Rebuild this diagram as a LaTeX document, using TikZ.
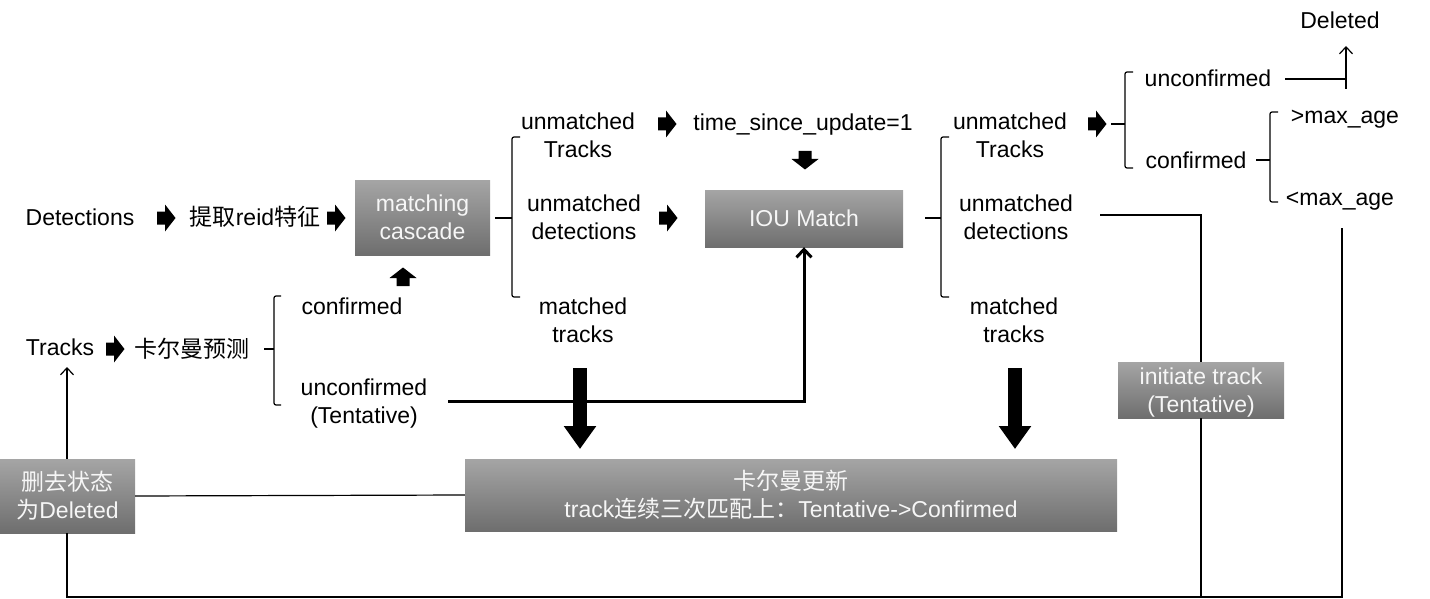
\documentclass[tikz,border=0pt]{standalone}
\usepackage{fontspec}
\setmainfont{Liberation Sans}
\newfontfamily\cjk{Noto Sans CJK SC}
\usetikzlibrary{arrows.meta,calc}
\definecolor{boxtop}{RGB}{165,165,165}
\definecolor{boxbot}{RGB}{110,110,110}
\definecolor{boxtxt}{RGB}{246,246,246}
\begin{document}
\begin{tikzpicture}[x=1pt,y=-1pt,
  every node/.style={font=\fontsize{23}{28}\selectfont, inner sep=0pt, align=center},
  gbox/.style={top color=boxtop, bottom color=boxbot, text=boxtxt},
  thinln/.style={line width=1.2pt},
  midln/.style={line width=2.2pt},
  thickln/.style={line width=3pt},
  openhead/.style={-{Straight Barb[length=7pt,width=13pt]}},
  bigarrow/.style={line width=14pt, -{Triangle[length=23pt,width=31pt]}},
  blk/.pic={\fill (-9,-6.5) -- (-1,-6.5) -- (-1,-13.5) -- (9.5,0) -- (-1,13.5) -- (-1,6.5) -- (-9,6.5) -- cycle;}
]
\useasboundingbox (0,0) rectangle (1430,599);

% text nodes
\node (det) at (80,217) {Detections};
\node (reid) at (255,217) {{\cjk 提取}reid{\cjk 特征}};
\node[gbox, minimum width=135pt, minimum height=75pt] (mc) at (422.5,217.5) {matching\\cascade};
\node (tracks) at (60,347) {Tracks};
\node (kp) at (192,349) {\cjk 卡尔曼预测};
\node (conf1) at (352,306) {confirmed};
\node (unc1) at (364,404) {unconfirmed\\(Tentative)};
\node (umt1) at (578,135.5) {unmatched\\Tracks};
\node (umd1) at (584,217) {unmatched\\detections};
\node (mt1) at (583,320) {matched\\tracks};
\node (tsu) at (803,125) {time\_since\_update=1};
\node[gbox, minimum width=198pt, minimum height=57pt] (iou) at (804,218.5) {IOU Match};
\node (umt2) at (1010,135.5) {unmatched\\Tracks};
\node (umd2) at (1016,217) {unmatched\\detections};
\node (mt2) at (1014,320) {matched\\tracks};
\node (unc2) at (1208,78) {unconfirmed};
\node (conf2) at (1196,160) {confirmed};
\node (gt) at (1345,119.5) {>max\_age};
\node (lt) at (1340,201.5) {<max\_age};
\node (deleted) at (1340,20) {Deleted};
\node[gbox, minimum width=166pt, minimum height=56pt, text depth=0pt] (init) at (1201,390) {initiate track\\(Tentative)};
\node[gbox, minimum width=652pt, minimum height=72pt] (kf) at (791,495) {{\cjk 卡尔曼更新}\\track{\cjk 连续三次匹配上：}Tentative->Confirmed};
\node[gbox, minimum width=135pt, minimum height=74pt] (del) at (67.5,496) {{\cjk 删去状态}\\{\cjk 为}Deleted};

% block arrows
\pic at (166,218) {blk};
\pic at (336,218) {blk};
\pic[rotate=90] at (403,277) {blk};
\pic at (115,349) {blk};
\pic at (667,124) {blk};
\pic at (668,218) {blk};
\pic[rotate=-90] at (805,160) {blk};
\pic at (1097,124) {blk};

% big arrows
\draw[bigarrow] (580,368) -- (580,449);
\draw[bigarrow] (1015,368) -- (1015,449);

% brackets
\begin{scope}[thinln, rounded corners=2pt]
\draw (281,296) -- (274,296) -- (274,405) -- (281,405);
\draw (264,349) -- (274,349);
\draw (520,137) -- (512,137) -- (512,297) -- (520,297);
\draw (495,218) -- (512,218);
\draw (949,137) -- (941,137) -- (941,297) -- (949,297);
\draw (925,218) -- (941,218);
\draw (1133,72) -- (1125,72) -- (1125,168) -- (1133,168);
\draw (1111,124) -- (1125,124);
\draw (1278,112) -- (1270,112) -- (1270,202) -- (1278,202);
\draw (1256,160) -- (1270,160);
\end{scope}

% connectors
\draw[thinln] (1285,79) -- (1346,79);
\draw[thinln, openhead] (1346,89) -- (1346,46);
\draw[thinln, openhead] (del.north -| 67,0) -- (67,367);
\draw[thinln] (del.east) -- (kf.west);
\draw[thickln, -{Straight Barb[length=8pt,width=15pt]}] (448,401) -| (iou.south);
\draw[midln] (1100,215) -| (init.north);
\draw[midln] (init.south) -- (init.south |- 0,597);
\draw[midln] (del.south -| 67,0) |- (1342,597) -- (1342,228);
\end{tikzpicture}
\end{document}
